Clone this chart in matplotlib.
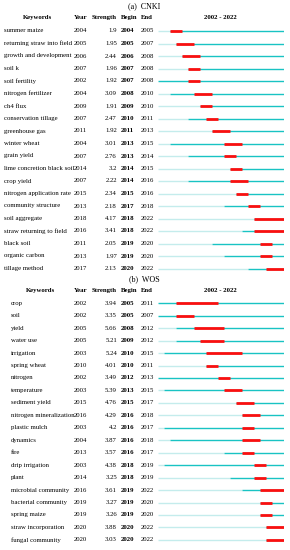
import matplotlib
matplotlib.use('Agg')
import matplotlib.pyplot as plt
from matplotlib import transforms

plt.rcParams['font.family'] = ['Liberation Serif', 'DejaVu Serif']

# (a) CNKI
cnki_keywords = ['summer maize', 'returning straw into field', 'growth and development', 'soil k',
                 'soil fertility', 'nitrogen fertilizer', 'ch4 flux', 'conservation tillage',
                 'greenhouse gas', 'winter wheat', 'grain yield', 'lime concretion black soil',
                 'crop yield', 'nitrogen application rate', 'community structure', 'soil aggregate',
                 'straw returning to field', 'black soil', 'organic carbon', 'tillage method']
cnki_year = [2004, 2005, 2006, 2007, 2002, 2004, 2009, 2007, 2011, 2004,
             2007, 2014, 2007, 2015, 2013, 2018, 2016, 2011, 2013, 2017]
cnki_strength = ['1.9', '1.95', '2.44', '1.96', '1.92', '3.09', '1.91', '2.47', '1.92', '3.01',
                 '2.76', '3.2', '2.22', '2.34', '2.18', '4.17', '3.41', '2.05', '1.97', '2.13']
cnki_begin = [2004, 2005, 2006, 2007, 2007, 2008, 2009, 2010, 2011, 2013,
              2013, 2014, 2014, 2015, 2017, 2018, 2018, 2019, 2019, 2020]
cnki_end = [2005, 2007, 2008, 2008, 2008, 2010, 2010, 2011, 2013, 2015,
            2014, 2015, 2016, 2016, 2018, 2022, 2022, 2020, 2020, 2022]

# (b) WOS
wos_keywords = ['crop', 'soil', 'yield', 'water use', 'irrigation', 'spring wheat', 'nitrogen',
                'temperature', 'sediment yield', 'nitrogen mineralization', 'plastic mulch',
                'dynamics', 'fire', 'drip irrigation', 'plant', 'microbial community',
                'bacterial community', 'spring maize', 'straw incorporation', 'fungal community']
wos_year = [2002, 2002, 2005, 2005, 2003, 2010, 2002, 2003, 2015, 2016,
            2003, 2004, 2013, 2003, 2014, 2016, 2019, 2019, 2020, 2020]
wos_strength = ['3.94', '3.35', '5.66', '5.21', '5.24', '4.01', '3.49', '5.39', '4.76', '4.29',
                '4.2', '3.87', '3.57', '4.38', '3.25', '3.61', '3.27', '3.26', '3.88', '3.03']
wos_begin = [2005, 2005, 2008, 2009, 2010, 2010, 2012, 2013, 2015, 2016,
             2016, 2016, 2016, 2018, 2018, 2019, 2019, 2019, 2020, 2020]
wos_end = [2011, 2007, 2012, 2012, 2015, 2011, 2013, 2015, 2017, 2018,
           2017, 2018, 2017, 2019, 2019, 2022, 2020, 2020, 2022, 2022]

first_year, last_year = 2002, 2022
LIGHT = '#c4ecec'
TEAL = '#19c3c3'
RED = '#fa0f0f'
W, H = 290, 550
FS = 4.9

fig = plt.figure(figsize=(W / 100, H / 100), dpi=100)


def panel(top_px, spacing, title, kw_x, kw_center, keywords, year, strength, begin, end):
    n = len(keywords)
    y0 = top_px - spacing / 2
    y1 = top_px + (n - 0.5) * spacing
    ax = fig.add_axes([157.5 / W, 1 - y1 / H, 126.5 / W, (y1 - y0) / H])
    ax.set_xlim(first_year, last_year + 1)
    ax.set_ylim(n - 0.5, -0.5)
    ax.axis('off')

    for i in range(n):
        ax.hlines(i, first_year, year[i], color=LIGHT, lw=1.0)
        ax.hlines(i, year[i], last_year + 1, color=TEAL, lw=1.0)
        ax.hlines(i, begin[i], end[i] + 1, color=RED, lw=2.0, capstyle='butt')

    tr = transforms.blended_transform_factory(fig.transFigure, ax.transData)
    head_y = -1.05
    ax.text(220.8 / W, head_y, '%d - %d' % (first_year, last_year), transform=tr,
            ha='center', va='center', fontsize=FS, fontweight='bold')
    ax.text(kw_center / W, head_y, 'Keywords', transform=tr, ha='center', va='center',
            fontsize=FS, fontweight='bold')
    for label, x in [('Year', 74), ('Strength', 91.5), ('Begin', 120.7), ('End', 141.3)]:
        ax.text(x / W, head_y, label, transform=tr, ha='left', va='center',
                fontsize=FS, fontweight='bold')
    ax.text(144.5 / W, -1.95, title, transform=tr, ha='center', va='center', fontsize=5.8)

    for i in range(n):
        ax.text(kw_x / W, i, keywords[i], transform=tr, ha='left', va='center', fontsize=FS)
        ax.text(74 / W, i, str(year[i]), transform=tr, ha='left', va='center', fontsize=FS)
        ax.text(117 / W, i, strength[i], transform=tr, ha='right', va='center', fontsize=FS)
        ax.text(120.8 / W, i, str(begin[i]), transform=tr, ha='left', va='center',
                fontsize=FS, fontweight='bold')
        ax.text(141 / W, i, str(end[i]), transform=tr, ha='left', va='center', fontsize=FS)
    return ax


panel(31, 12.5, '(a)  CNKI', 4, 37.5, cnki_keywords, cnki_year, cnki_strength, cnki_begin, cnki_end)
panel(303.3, 12.45, '(b)  WOS', 10.7, 40.7, wos_keywords, wos_year, wos_strength, wos_begin, wos_end)

fig.savefig('out.png', dpi=100, facecolor='white')
